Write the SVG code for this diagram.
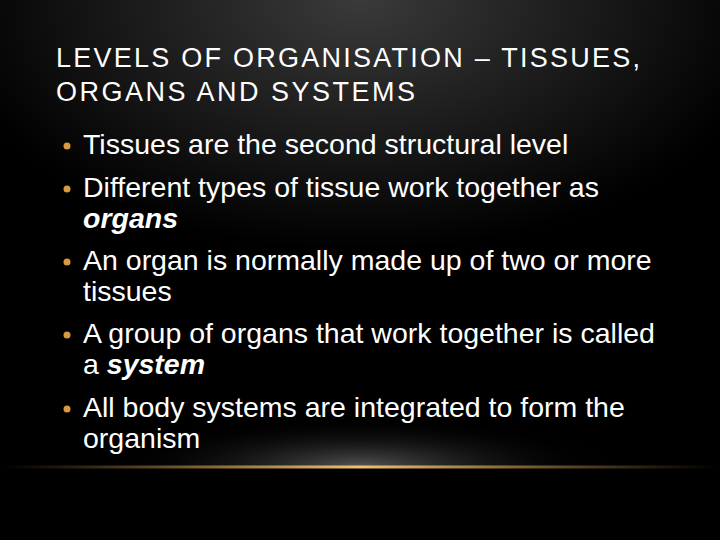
<svg xmlns="http://www.w3.org/2000/svg" width="720" height="540" viewBox="0 0 720 540">
<defs>
<radialGradient id="top" cx="360" cy="0" r="420" gradientUnits="userSpaceOnUse" gradientTransform="translate(0,0) scale(1,0.6)">
<stop offset="0" stop-color="#3a3a3a"/><stop offset="1" stop-color="#000"/>
</radialGradient>
<radialGradient id="glow" cx="360" cy="467" r="250" gradientUnits="userSpaceOnUse" gradientTransform="translate(0,373.6) scale(1,0.2)">
<stop offset="0" stop-color="#555"/><stop offset="1" stop-color="#000" stop-opacity="0"/>
</radialGradient>
<linearGradient id="line" x1="0" x2="720" y1="0" y2="0" gradientUnits="userSpaceOnUse">
<stop offset="0" stop-color="#c8923a" stop-opacity="0"/><stop offset="0.5" stop-color="#f0c070"/><stop offset="1" stop-color="#c8923a" stop-opacity="0"/>
</linearGradient>
<style>
.t{font-family:"Liberation Sans",Arial,sans-serif;fill:#fff;}
.h{font-size:27px;}
.b{font-size:28.5px;}
.bi{font-weight:bold;font-style:italic;}
.dot{fill:#d89a3a;}
</style>
</defs>
<rect width="720" height="540" fill="#000"/>
<rect width="720" height="300" fill="url(#top)"/>
<rect x="100" y="400" width="520" height="67" fill="url(#glow)"/>
<rect x="0" y="465.5" width="720" height="3" fill="url(#line)"/>
<text class="t h" x="56" y="67" textLength="584" lengthAdjust="spacing">LEVELS OF ORGANISATION – TISSUES,</text>
<text class="t h" x="56" y="101" textLength="359" lengthAdjust="spacing">ORGANS AND SYSTEMS</text>
<g class="dot">
<circle cx="67" cy="146" r="3.5"/><circle cx="67" cy="189" r="3.5"/><circle cx="67" cy="262" r="3.5"/><circle cx="67" cy="335" r="3.5"/><circle cx="67" cy="409" r="3.5"/>
</g>
<g class="t b">
<text x="83" y="154">Tissues are the second structural level</text>
<text x="83" y="197">Different types of tissue work together as</text>
<text x="83" y="228" class="bi">organs</text>
<text x="83" y="270">An organ is normally made up of two or more</text>
<text x="83" y="301">tissues</text>
<text x="83" y="343">A group of organs that work together is called</text>
<text x="83" y="374">a <tspan class="bi">system</tspan></text>
<text x="83" y="417">All body systems are integrated to form the</text>
<text x="83" y="448">organism</text>
</g>
</svg>
